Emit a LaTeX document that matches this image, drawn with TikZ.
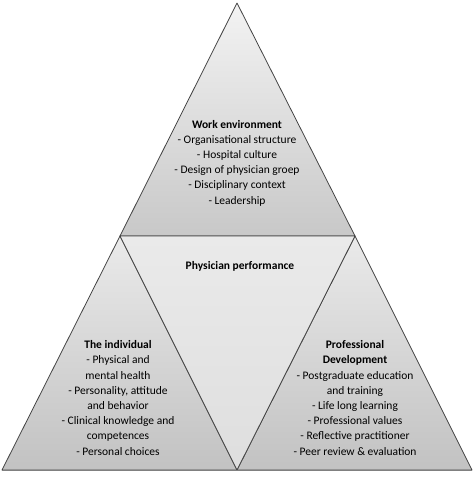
\documentclass[tikz,border=0pt]{standalone}
\usepackage{fontspec}
\setmainfont{Carlito}
\usepackage{tikz}

\definecolor{edgegray}{HTML}{444444}
\definecolor{lightfill}{HTML}{F3F3F3}
\definecolor{darkfill}{HTML}{C2C2C2}
\definecolor{midfill}{HTML}{EAEAEA}

\begin{document}
\begin{tikzpicture}[x=1pt, y=-1pt,
  every node/.style={align=center, font=\fontsize{11.5}{15.2}\selectfont, inner sep=0pt},
  part/.style={draw=edgegray, line width=0.8pt, line join=round}]
  \useasboundingbox (0,0) rectangle (474,482);

  % Eckpunkte
  \coordinate (apex) at (237,3);
  \coordinate (botL) at (2,470);
  \coordinate (botR) at (472,470);
  \coordinate (midL) at (120,236);
  \coordinate (midR) at (355,236);
  \coordinate (midB) at (237,470);

  % Dreiecke
  \path[part, top color=lightfill, bottom color=darkfill!90!white] (apex) -- (midR) -- (midL) -- cycle;
  \path[part, top color=midfill, bottom color=darkfill] (midL) -- (midB) -- (botL) -- cycle;
  \path[part, top color=midfill, bottom color=darkfill] (midR) -- (botR) -- (midB) -- cycle;
  \path[part, top color=midfill, bottom color=midfill!95!black] (midL) -- (midR) -- (midB) -- cycle;
  \draw[gray, line width=1pt] (botL) -- (botR);

  % Texte
  \node (work) at (237,163) {\textbf{Work environment}\\- Organisational structure\\- Hospital culture\\- Design of physician groep\\- Disciplinary context\\- Leadership};
  \node (perf) at (240,266) {\textbf{Physician performance}};
  \node (indiv) at (118,398) {\textbf{The individual}\\- Physical and\\mental health\\- Personality, attitude\\and behavior\\- Clinical knowledge and\\competences\\- Personal choices};
  \node (prof) at (355,398) {\textbf{Professional}\\\textbf{Development}\\- Postgraduate education\\and training\\- Life long learning\\- Professional values\\- Reflective practitioner\\- Peer review \& evaluation};
\end{tikzpicture}
\end{document}
